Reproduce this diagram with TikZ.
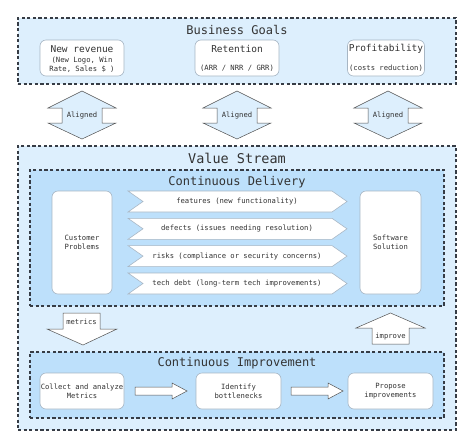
\documentclass[tikz,border=0pt]{standalone}
\usepackage{fontspec}
\setmainfont{DejaVu Sans Mono}
\definecolor{paleblue}{HTML}{DDEFFD}
\definecolor{laneblue}{HTML}{BDE0FB}
\definecolor{frame}{HTML}{363C45}
\definecolor{cardline}{HTML}{A7B6C4}
\definecolor{ink}{HTML}{333333}
\begin{document}
\begin{tikzpicture}[x=1pt, y=-1pt,
    group/.style={draw=frame, dash pattern=on 3.2pt off 2.4pt, line width=1.2pt},
    card/.style={draw=cardline, fill=white, rounded corners=6pt, line width=0.6pt},
    block/.style={draw=ink!85, line width=0.5pt, line join=miter},
    title/.style={font=\fontsize{12}{14}\selectfont, text=ink},
    head/.style={font=\fontsize{9.5}{11}\selectfont, text=ink},
    small/.style={font=\fontsize{7.2}{9}\selectfont, text=ink, align=center, inner sep=0pt}]
    \useasboundingbox (0,0) rectangle (474,437);
    % business goals
    \node[group, fill=paleblue, minimum width=438, minimum height=66] (goals) at (237,51) {};
    \node[title] (goalstitle) at (237,30) {Business Goals};
    \node[card, minimum width=84, minimum height=36] (rev) at (82,58) {};
    \node[card, minimum width=84, minimum height=36] (ret) at (237,58) {};
    \node[card, minimum width=77, minimum height=36] (prof) at (386,58) {};
    \node[head] (revtitle) at (82,49) {New revenue};
    \node[small] (revsub) at (82,65) {(New Logo, Win\\Rate, Sales \$ )};
    \node[head] (rettitle) at (237,49) {Retention};
    \node[small] (retsub) at (237,68) {(ARR / NRR / GRR)};
    \node[head] (proftitle) at (386,49) {Profitability};
    \node[small] (profsub) at (386,68) {(costs reduction)};
    % aligned arrows
    \foreach \c/\n in {82/alignA, 237/alignB, 388/alignC} {
        \draw[block, fill=paleblue] (\c,91) -- (\c+34,108) -- (\c+20,108) -- (\c+20,123)
            -- (\c+34,123) -- (\c,139) -- (\c-34,123) -- (\c-20,123) -- (\c-20,108)
            -- (\c-34,108) -- cycle;
        \node[small] (\n) at (\c,115.5) {Aligned};
    }
    % value stream
    \node[group, fill=paleblue, minimum width=438, minimum height=284] (stream) at (237,288) {};
    \node[title, font=\fontsize{13.5}{15}\selectfont] (streamtitle) at (237,158) {Value Stream};
    % continuous delivery
    \node[group, fill=laneblue, minimum width=414, minimum height=136] (delivery) at (237,238) {};
    \node[title] (deliverytitle) at (237,182) {Continuous Delivery};
    \node[card, minimum width=60, minimum height=103, small] (problems) at (82,242.5) {Customer\\Problems};
    \node[card, minimum width=61, minimum height=103, small] (solution) at (390.5,242.5) {Software\\Solution};
    \foreach \t/\n/\txt in {191/work1/features (new functionality),
                            218.3/work2/defects (issues needing resolution),
                            245.6/work3/risks (compliance or security concerns),
                            273/work4/tech debt (long-term tech improvements)} {
        \draw[draw=cardline, fill=white, line width=0.6pt] (128,\t) -- (332,\t) -- (347,\t+10.5)
            -- (332,\t+21) -- (128,\t+21) -- (143,\t+10.5) -- cycle;
        \node[small] (\n) at (237,\t+10.5) {\txt};
    }
    % metrics and improve
    \draw[block, fill=white] (63,313) -- (100,313) -- (100,329) -- (117,329) -- (83,345)
        -- (47,329) -- (63,329) -- cycle;
    \node[small] (metrics) at (81.5,321.5) {metrics};
    \draw[block, fill=white] (390.5,313) -- (425,328) -- (409,328) -- (409,344) -- (372,344)
        -- (372,328) -- (356,328) -- cycle;
    \node[small] (improve) at (390.5,337) {improve};
    % continuous improvement
    \node[group, fill=laneblue, minimum width=414, minimum height=66] (improvement) at (237,385) {};
    \node[title] (improvementtitle) at (237,363) {Continuous Improvement};
    \node[card, minimum width=84, minimum height=36, small] (collect) at (82,391) {Collect and analyze\\Metrics};
    \node[card, minimum width=85, minimum height=36, small] (identify) at (238.5,391) {Identify\\bottlenecks};
    \node[card, minimum width=85, minimum height=36, small] (propose) at (390.5,391) {Propose\\improvements};
    \foreach \s in {135, 291} {
        \draw[block, fill=white] (\s,387) -- (\s+37,387) -- (\s+37,383) -- (\s+52,391)
            -- (\s+37,399) -- (\s+37,395) -- (\s,395) -- cycle;
    }
\end{tikzpicture}
\end{document}
